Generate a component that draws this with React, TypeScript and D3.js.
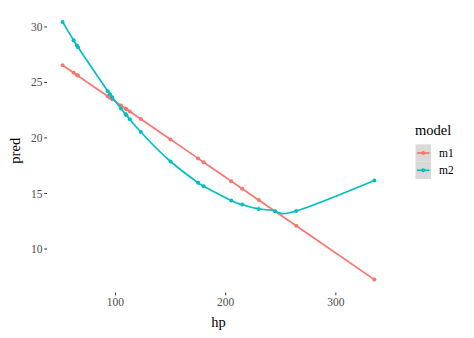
import React from "react";
import * as d3 from "d3";

const hp = [52, 62, 65, 66, 93, 95, 97, 105, 109, 110, 113, 123, 150, 175, 180, 205, 215, 230, 245, 264, 335];
const m1 = [26.551, 25.869, 25.664, 25.596, 23.754, 23.617, 23.481, 22.935, 22.662, 22.594, 22.389, 21.707, 19.865, 18.159, 17.818, 16.112, 15.430, 14.406, 13.383, 12.087, 7.242];
const m2 = [30.455, 28.801, 28.322, 28.164, 24.211, 23.942, 23.678, 22.651, 22.158, 22.037, 21.679, 20.539, 17.881, 15.967, 15.648, 14.365, 14.000, 13.608, 13.408, 13.424, 16.175];
const models = ["m1", "m2"];
const colors = ["#F8766D", "#00BFC4"];
const xTicks = [100, 200, 300];
const yTicks = [10, 15, 20, 25, 30];

export default function App() {
  const W = 474, H = 338;
  const panel = { left: 47, right: 390, top: 9, bottom: 292.5 };
  const xMin = d3.min(hp)!, xMax = d3.max(hp)!;
  const allY = [...m1, ...m2];
  const yMin = d3.min(allY)!, yMax = d3.max(allY)!;
  const xPad = (xMax - xMin) * 0.05, yPad = (yMax - yMin) * 0.05;
  const x = d3.scaleLinear().domain([xMin - xPad, xMax + xPad]).range([panel.left, panel.right]);
  const y = d3.scaleLinear().domain([yMin - yPad, yMax + yPad]).range([panel.bottom, panel.top]);
  const series = [m1, m2];
  const line = d3.line<[number, number]>().x(d => x(d[0])).y(d => y(d[1])).curve(d3.curveNatural);
  const font = "'Liberation Serif', 'Times New Roman', serif";
  return (
    <svg width={W} height={H} style={{ position: "absolute", left: 0, top: 0, background: "#fff" }} fontFamily={font}>
      {series.map((s, i) => {
        const pts: [number, number][] = hp.map((h, j) => [h, s[j]]);
        return (
          <g key={i}>
            <path d={line(pts) || ""} fill="none" stroke={colors[i]} strokeWidth={1.7} />
            {pts.map((p, j) => (
              <circle key={j} cx={x(p[0])} cy={y(p[1])} r={2} fill={colors[i]} />
            ))}
          </g>
        );
      })}
      {yTicks.map(t => (
        <g key={t}>
          <line x1={panel.left - 2.75} x2={panel.left} y1={y(t)} y2={y(t)} stroke="#333" strokeWidth={1} />
          <text x={panel.left - 4.5} y={y(t)} dy="0.35em" textAnchor="end" fontSize={11.5} fill="#4d4d4d">{t}</text>
        </g>
      ))}
      {xTicks.map(t => (
        <g key={t}>
          <line x1={x(t)} x2={x(t)} y1={panel.bottom} y2={panel.bottom + 2.75} stroke="#333" strokeWidth={1} />
          <text x={x(t)} y={panel.bottom + 13} textAnchor="middle" fontSize={11.5} fill="#4d4d4d">{t}</text>
        </g>
      ))}
      <text x={(panel.left + panel.right) / 2} y={327} textAnchor="middle" fontSize={14.5} fill="#000">hp</text>
      <text transform={`translate(20,${(panel.top + panel.bottom) / 2}) rotate(-90)`} textAnchor="middle" fontSize={14.5} fill="#000">pred</text>
      <text x={415} y={135} fontSize={14.5} fill="#000">model</text>
      {models.map((m, i) => {
        const cy = 153 + i * 17.3;
        return (
          <g key={m}>
            <rect x={415.5} y={cy - 8.65} width={15.5} height={17.3} fill="#d9d9d9" />
            <line x1={417} x2={429.5} y1={cy} y2={cy} stroke={colors[i]} strokeWidth={1.7} />
            <circle cx={423.25} cy={cy} r={2} fill={colors[i]} />
            <text x={439} y={cy} dy="0.35em" fontSize={11.5} fill="#000">{m}</text>
          </g>
        );
      })}
    </svg>
  );
}
